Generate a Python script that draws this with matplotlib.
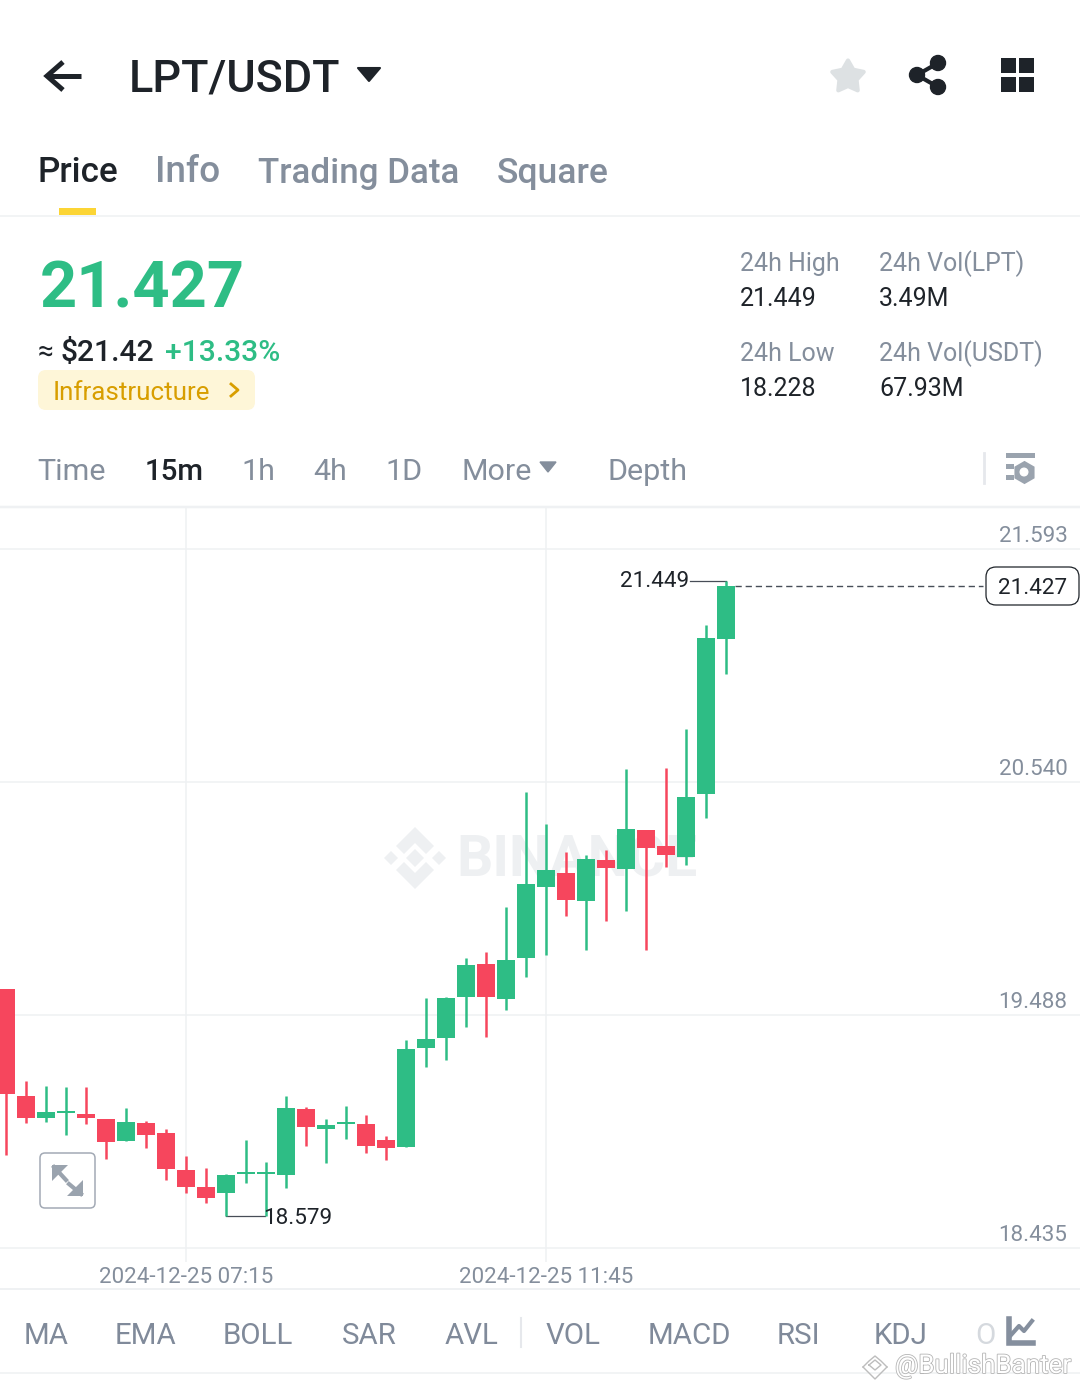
import matplotlib
matplotlib.use("agg")
import matplotlib.pyplot as plt
from matplotlib.patches import FancyBboxPatch, Polygon, Circle, Rectangle
from matplotlib.transforms import ScaledTranslation
import matplotlib.patheffects as pe
import numpy as np

plt.rcParams['font.family'] = ['Roboto', 'DejaVu Sans']

# candles, left to right (15m)
opens = [19.605,19.121,19.022,19.044,19.040,19.017,18.918,18.999,18.954,18.787,18.710,18.683,18.769,18.769,18.764,19.063,18.972,18.995,18.995,18.922,18.891,19.338,19.383,19.569,19.718,19.560,19.745,20.066,20.129,20.002,20.188,20.147,20.323,20.251,20.201,20.486,21.187]
closes = [19.130,19.022,19.049,19.053,19.022,18.913,19.004,18.945,18.791,18.710,18.660,18.764,18.778,18.778,19.067,18.981,18.990,19.004,18.895,18.886,19.334,19.379,19.564,19.713,19.569,19.736,20.079,20.142,20.007,20.192,20.152,20.328,20.242,20.210,20.472,21.191,21.427]
highs = [19.605,19.189,19.166,19.162,19.162,19.017,19.067,19.008,18.972,18.850,18.796,18.769,18.922,18.823,19.121,19.072,19.017,19.076,19.035,18.941,19.374,19.564,19.569,19.745,19.772,19.975,20.495,20.350,20.224,20.210,20.233,20.599,20.323,20.603,20.780,21.250,21.449]
lows = [18.855,18.999,19.004,18.945,18.995,18.837,18.918,18.886,18.742,18.683,18.638,18.579,18.728,18.580,18.706,18.895,18.819,18.927,18.864,18.832,18.891,19.252,19.284,19.433,19.388,19.510,19.659,19.758,19.935,19.781,19.912,19.957,19.781,20.156,20.165,20.377,21.028]

price_ticks = [21.593, 20.540, 19.488, 18.435]
time_ticks = [9, 27]
time_labels = ['2024-12-25 07:15', '2024-12-25 11:45']

GREEN = '#2EBD85'
RED = '#F6465D'
DARK = '#1E2329'
GRAY = '#848E9C'
LINE = '#EFF1F3'
WM = '#EEF0F2'

W, H = 1080, 1389
fig = plt.figure(figsize=(W / 100, H / 100), dpi=100)

# whole page in pixel coords, for the app chrome
ui = fig.add_axes([0, 0, 1, 1], zorder=0)
ui.set_xlim(0, W)
ui.set_ylim(H, 0)
ui.axis('off')


def txt(x, y, s, px, color=GRAY, weight='normal', ha='left', **kw):
    # +2: Roboto sits a little high when centred
    return ui.text(x, y + 2, s, fontsize=px * 0.72, color=color, fontweight=weight,
                   ha=ha, va='center', **kw)


def hline(y, x0=0, x1=W, color=LINE, lw=1.5):
    ui.plot([x0, x1], [y, y], color=color, lw=lw * 0.72, solid_capstyle='butt')


def rbox(x0, y0, x1, y1, r, **kw):
    ui.add_patch(FancyBboxPatch((x0 + r, y0 + r), x1 - x0 - 2 * r, y1 - y0 - 2 * r,
                                boxstyle='round,pad=%d,rounding_size=%d' % (r, r), **kw))


# header
ui.plot([81, 48], [76, 76], color=DARK, lw=3.6, solid_capstyle='butt')
ui.plot([63, 47, 63], [62, 76, 90], color=DARK, lw=3.6, solid_capstyle='butt', solid_joinstyle='miter')
txt(129, 77, 'LPT/USDT', 45, DARK, 'medium')
ui.add_patch(Polygon([[358, 68], [380, 68], [369, 81]], closed=True, fc=DARK, ec=DARK, joinstyle='round', lw=1.5))
star_ang = np.pi / 2 + np.arange(10) * np.pi / 5
star_r = np.where(np.arange(10) % 2 == 0, 16.5, 9.0)
ui.add_patch(Polygon(np.column_stack([848 + star_r * np.cos(star_ang), 77 - star_r * np.sin(star_ang)]),
                     closed=True, fc='#DDE1E3', ec='#DDE1E3', lw=3, joinstyle='round'))
for cx, cy in [(917, 75), (938, 63), (938, 87)]:
    ui.add_patch(Circle((cx, cy), 7.5, color=DARK))
ui.plot([938, 917, 938], [63, 75, 87], color=DARK, lw=3)
for x0 in [1001, 1019]:
    for y0 in [58, 77]:
        ui.add_patch(Rectangle((x0, y0), 15, 15, color=DARK, lw=0))

# tabs
txt(38, 171, 'Price', 35, DARK, 'medium')
txt(155, 171, 'Info', 37, GRAY, 'medium')
txt(258, 171, 'Trading Data', 35, GRAY, 'medium')
txt(497, 171, 'Square', 35.5, GRAY, 'medium')
ui.add_patch(Rectangle((59, 208), 37, 7, color='#FCD535', lw=0))
hline(215.5)

# price block
txt(40, 288, '21.427', 65, GREEN, 'bold')
txt(38, 351, '≈', 28, DARK)
txt(61, 351, '$21.42', 30, DARK, 'medium')
txt(165, 351, '+13.33%', 30, GREEN, 'medium')
rbox(38, 370, 255, 410, 8, fc='#FEF6D8', ec='none')
txt(53, 391, 'Infrastructure', 26, '#D89E00')
ui.plot([231, 238, 231], [384, 390, 396], color='#D89E00', lw=2)

txt(740, 262, '24h High', 25)
txt(740, 297, '21.449', 25, DARK)
txt(879, 262, '24h Vol(LPT)', 25)
txt(879, 297, '3.49M', 25, DARK)
txt(740, 352, '24h Low', 25)
txt(740, 387, '18.228', 25, DARK)
txt(879, 352, '24h Vol(USDT)', 25)
txt(879, 387, '67.93M', 25, DARK)

# timeframe row
txt(37, 470, 'Time', 30.5)
txt(145, 470, '15m', 29.5, DARK, 'medium')
txt(241, 470, '1h', 30.5)
txt(313, 470, '4h', 30.5)
txt(385, 470, '1D', 30.5)
txt(461, 470, 'More', 30.5)
ui.add_patch(Polygon([[540, 462], [556, 462], [548, 472]], closed=True, color=GRAY))
txt(607, 470, 'Depth', 30.5)
ui.plot([984, 984], [453, 483], color='#E6E8EC', lw=2)
ui.add_patch(Rectangle((1006, 453), 29, 5, color='#9AA3AE', lw=0))
ui.add_patch(Rectangle((1006, 464), 8, 5, color='#9AA3AE', lw=0))
ui.add_patch(Rectangle((1006, 475), 8, 5, color='#9AA3AE', lw=0))
ui.scatter([1024], [472], marker='h', s=280, color='#9AA3AE', linewidths=0)
ui.add_patch(Circle((1024, 472), 3.8, color='white'))
hline(507, lw=2.5)

# watermark behind the candles
ui.add_patch(Polygon([[415, 849], [424, 858], [415, 867], [406, 858]], color=WM, lw=0))
ui.add_patch(Polygon([[391, 851], [398, 858], [391, 865], [384, 858]], color=WM, lw=0))
ui.add_patch(Polygon([[439, 851], [446, 858], [439, 865], [432, 858]], color=WM, lw=0))
ui.add_patch(Polygon([[415, 827], [434, 846], [426, 854], [415, 843], [404, 854], [396, 846]], color=WM, lw=0))
ui.add_patch(Polygon([[415, 889], [434, 870], [426, 862], [415, 873], [404, 862], [396, 870]], color=WM, lw=0))
txt(456, 859, 'BINANCE', 57, WM, 'bold')

# bottom row
hline(1289, lw=2)
hline(1373, lw=1.5)
for x, s in [(24, 'MA'), (115, 'EMA'), (223, 'BOLL'), (342, 'SAR'), (445, 'AVL'),
             (546, 'VOL'), (648, 'MACD'), (777, 'RSI'), (874, 'KDJ')]:
    txt(x, 1334, s, 29.5, '#808A9A')
txt(975, 1334, 'O', 29.5, '#D5D9DE')
ui.plot([521, 521], [1318, 1347], color='#E6E8EC', lw=1.5)
ui.plot([1009, 1009, 1033], [1319, 1343, 1343], color='#858F9E', lw=4, solid_joinstyle='miter')
ui.plot([1011, 1019, 1024, 1032], [1335, 1326, 1331, 1321], color='#858F9E', lw=3)

# expand button
rbox(40, 1153, 95, 1208, 5, fc='white', ec='#A3AAB5', lw=1.1)
ui.plot([54, 66], [1167, 1180], color='#9AA3AE', lw=3)
ui.plot([69, 81], [1184, 1194], color='#9AA3AE', lw=3)
ui.add_patch(Polygon([[52, 1165], [68, 1165], [52, 1181]], color='#9AA3AE', lw=0))
ui.add_patch(Polygon([[83, 1196], [67, 1196], [83, 1180]], color='#9AA3AE', lw=0))

# price chart, candle i sits at pixel 6 + 20 * i
ax = fig.add_axes([0, 1 - 1262 / H, 1, (1262 - 507) / H], zorder=1)
ax.patch.set_alpha(0)
ax.set_xlim(-0.3, 53.7)
ax.set_ylim(18.371, 21.783)
for s in ax.spines.values():
    s.set_visible(False)

ax.set_xticks(time_ticks)
ax.set_xticklabels(time_labels)
ax.set_yticks(price_ticks)
ax.set_yticklabels(['%.3f' % p for p in price_ticks])
ax.yaxis.tick_right()
ax.grid(True, color=LINE, lw=1.1)
ax.set_axisbelow(True)
ax.tick_params(axis='x', length=0, pad=3.7, labelsize=16.1, labelcolor=GRAY)
ax.tick_params(axis='y', length=0, pad=-9, labelsize=16.1, labelcolor=GRAY)
lift = ScaledTranslation(0, 2 / 100, fig.dpi_scale_trans)
for tick in ax.yaxis.get_major_ticks():
    tick.label2.set_ha('right')
    tick.label2.set_va('bottom')
    tick.label2.set_transform(tick.label2.get_transform() + lift)

o = np.array(opens)
c = np.array(closes)
idx = np.arange(len(o))
cols = [GREEN if b >= a else RED for a, b in zip(o, c)]
ax.vlines(idx, lows, highs, colors=cols, lw=1.8, zorder=3)
ax.bar(idx, np.abs(c - o), bottom=np.minimum(o, c), width=0.88, color=cols, lw=0, zorder=4)

# high / low / last markers
last = closes[-1]
hi_i = int(np.argmax(highs))
lo_i = int(np.argmin(lows))
ax.plot([hi_i - 1.8, hi_i], [highs[hi_i], highs[hi_i]], color='#474D57', lw=0.9, zorder=2)
ax.text(hi_i - 1.85, highs[hi_i] - 0.002, '%.3f' % highs[hi_i], fontsize=16.2, color=DARK, ha='right', va='center')
ax.plot([lo_i, lo_i + 1.95], [lows[lo_i], lows[lo_i]], color='#474D57', lw=0.9, zorder=2)
ax.text(lo_i + 1.87, lows[lo_i] - 0.010, '%.3f' % lows[lo_i], fontsize=16.2, color=DARK, ha='left', va='center')
ax.plot([len(o) - 0.55, 48.85], [last, last], color='#474D57', lw=1, dashes=(4.5, 2.8), zorder=2)

rbox(986, 567, 1079, 605, 10, fc='white', ec=DARK, lw=0.9, zorder=5)
txt(1067, 586, '%.3f' % last, 22.5, DARK, ha='right', zorder=6)

# repost mark, outlined text over everything
top = fig.add_axes([0, 0, 1, 1], zorder=2)
top.set_xlim(0, W)
top.set_ylim(H, 0)
top.axis('off')
top.text(895, 1366, '@BullishBanter', fontsize=18.7, color='white', ha='left', va='center',
         path_effects=[pe.withStroke(linewidth=1.2, foreground='#B5B5B5')])
top.plot([863, 869, 875, 881, 887], [1367, 1361, 1356, 1361, 1367], color='#BDBDBD', lw=1)
top.plot([863, 875, 887], [1367, 1379, 1367], color='#BDBDBD', lw=1)
top.plot([869, 875, 881, 875, 869], [1365, 1360, 1365, 1370, 1365], color='#BDBDBD', lw=1)

fig.savefig('out.png', dpi=100)
plt.close()
